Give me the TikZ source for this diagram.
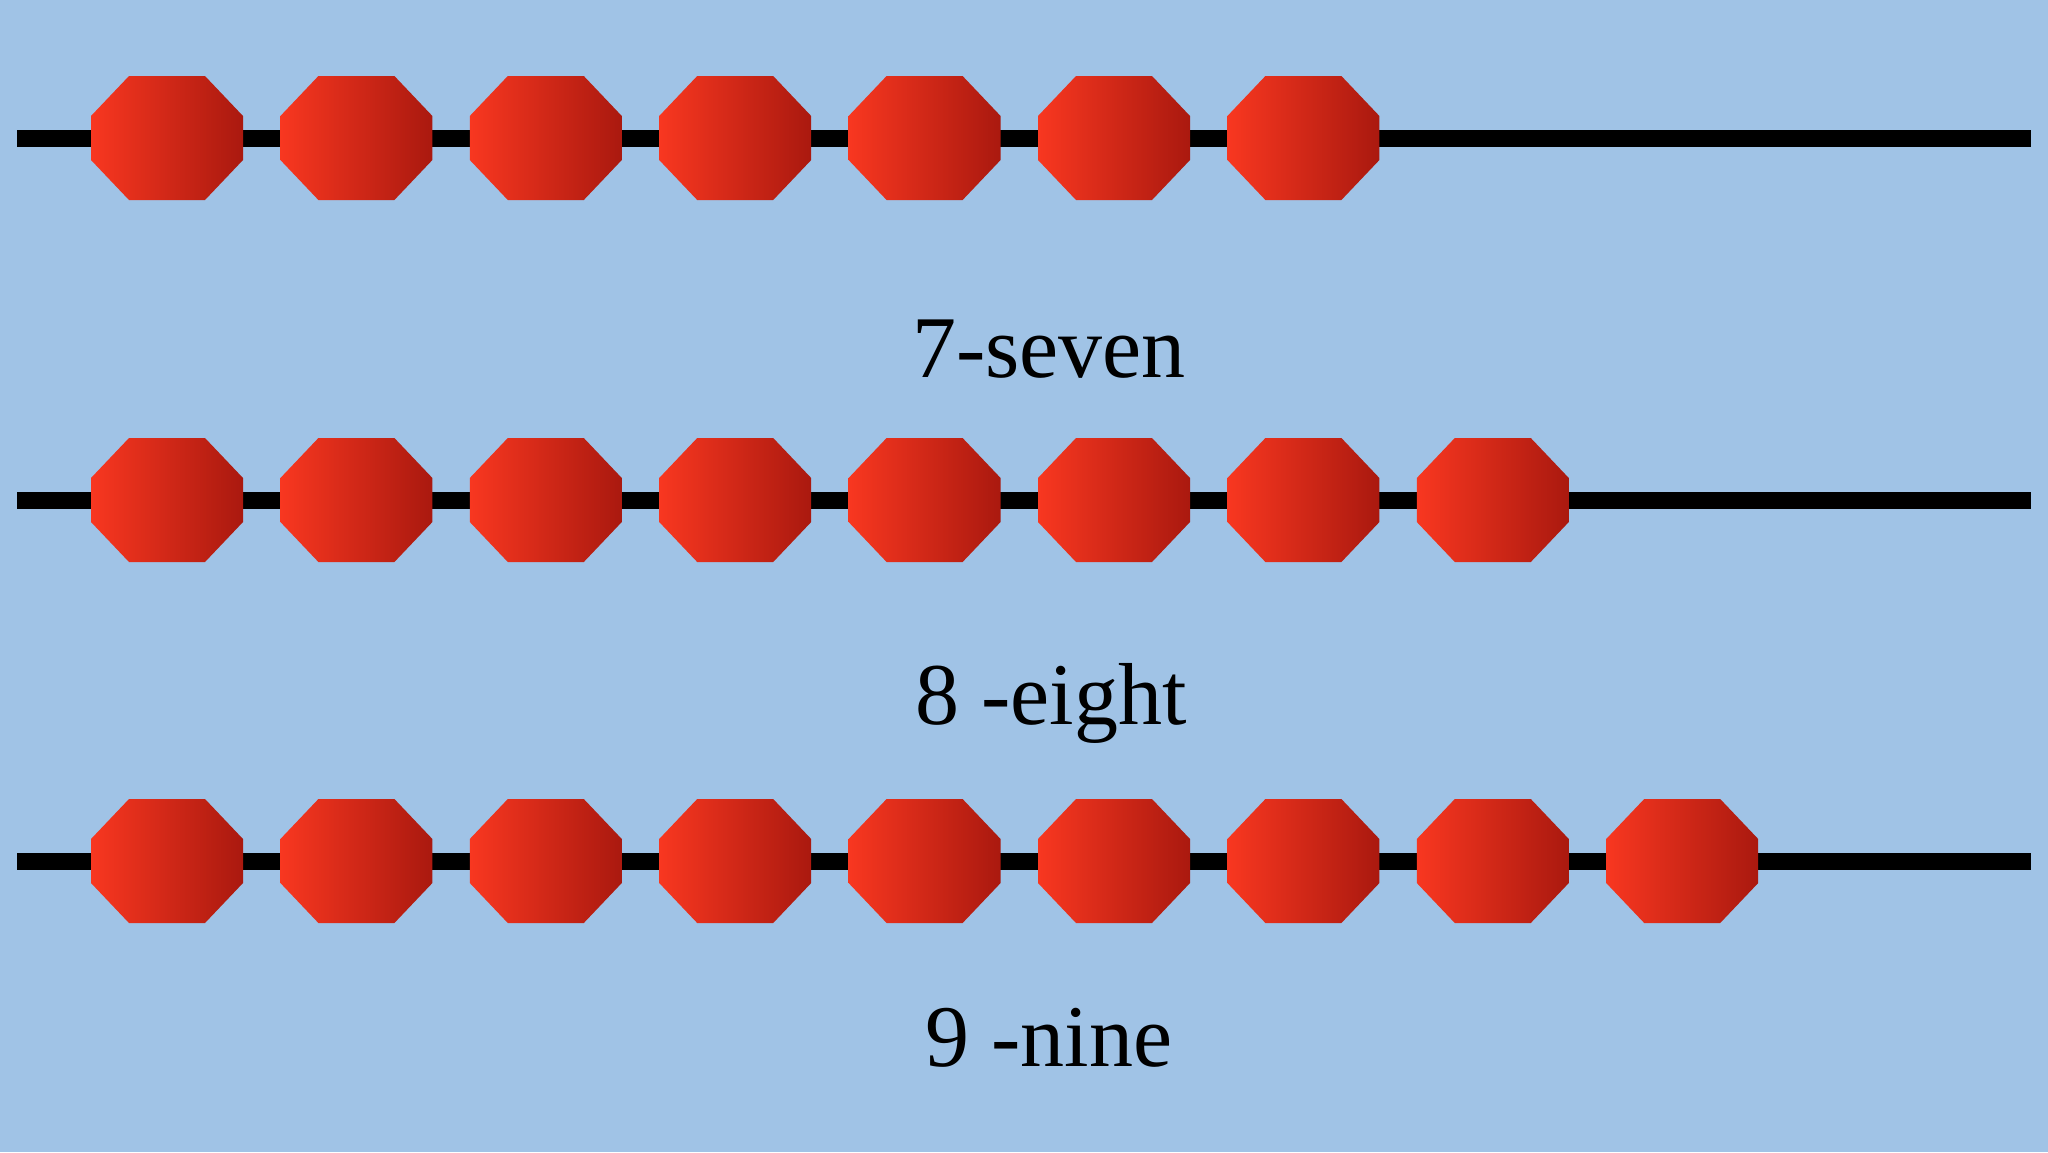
\documentclass[tikz,border=0pt]{standalone}
\usepackage{fontspec}
\setmainfont{Liberation Serif}
\definecolor{bg}{RGB}{160,195,230}
\definecolor{beadL}{RGB}{248,55,32}
\definecolor{beadM}{RGB}{235,45,25}
\definecolor{beadR}{RGB}{170,25,15}
\begin{document}
\begin{tikzpicture}[x=1pt,y=-1pt,
  wire/.style={line width=17pt},
  lbl/.style={font=\fontsize{88}{96}\selectfont, text=black},
  bead/.style={left color=beadL, middle color=beadM, right color=beadR}]
\fill[bg] (0,0) rectangle (2048,1152);
\useasboundingbox (0,0) rectangle (2048,1152);
\newcommand{\mybead}[2]{%
  \shade[bead] (#1,#2) ++(-38,-62) -- ++(76,0) -- ++(38,40) -- ++(0,44) -- ++(-38,40) -- ++(-76,0) -- ++(-38,-40) -- ++(0,-44) -- cycle;}
\foreach \y/\n in {138/7,500/8,861/9}{
  \coordinate (L\n) at (17,\y);
  \coordinate (R\n) at (2031,\y);
  \draw[wire] (L\n) -- (R\n);
  \foreach \i in {1,...,\n}{\pgfmathsetmacro\xx{167+189.4*(\i-1)}\mybead{\xx}{\y}}
}
\node[lbl] (t7) at (1049,349) {7-seven};
\node[lbl] (t8) at (1051,703) {8 -eight};
\node[lbl] (t9) at (1049,1038) {9 -nine};
\end{tikzpicture}
\end{document}
